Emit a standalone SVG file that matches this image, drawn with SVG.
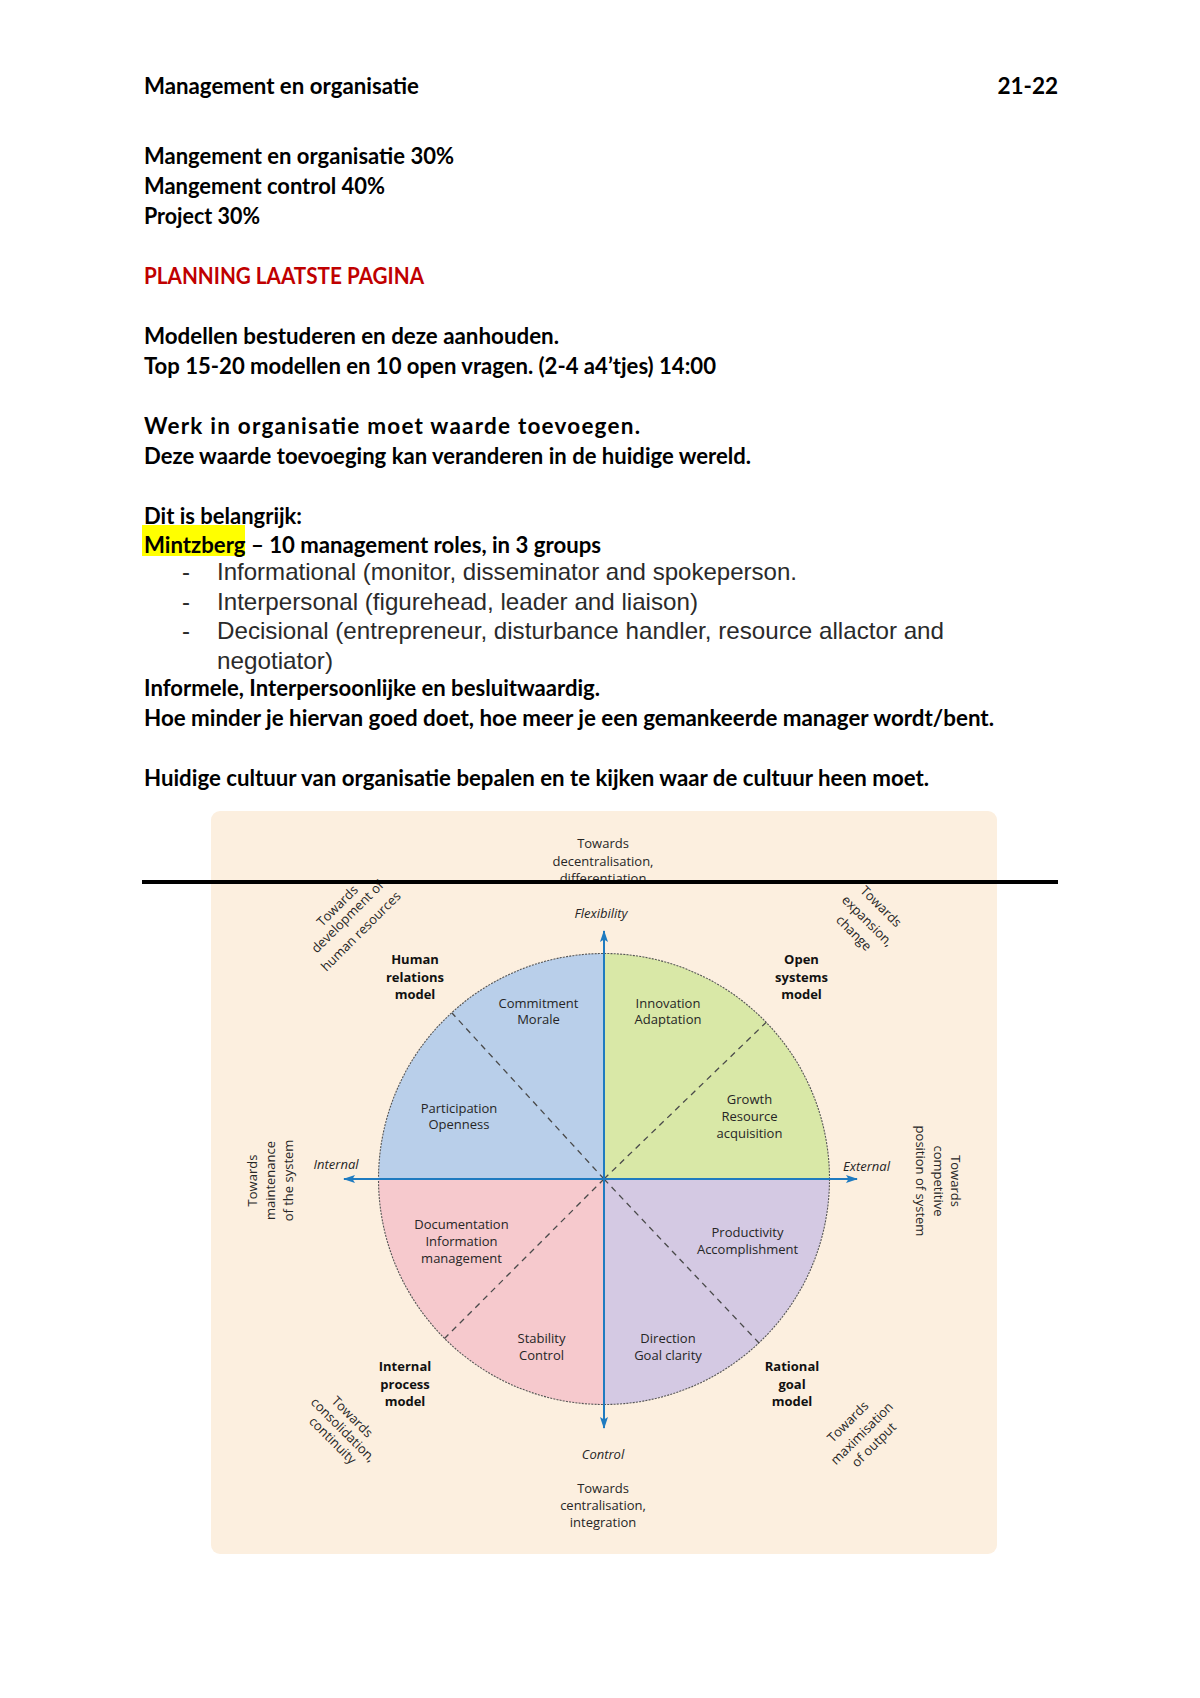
<svg xmlns="http://www.w3.org/2000/svg" width="1200" height="1698" viewBox="0 0 1200 1698">
<defs>
<style>
.b{font-family:Lato,"Liberation Sans",sans-serif;font-weight:700;font-size:22.5px;fill:#000}
.r{font-family:"Liberation Sans",Arial,sans-serif;font-size:24px;fill:#2a2a2a}
.d{font-family:"Open Sans","Liberation Sans",sans-serif;font-size:13px;fill:#262626;text-anchor:middle}
.db{font-weight:700;fill:#111}
.di{font-style:italic}
.dash{stroke:#4a4a4a;stroke-width:1.3;stroke-dasharray:6 5;fill:none}
.axis{stroke:#1f7bc0;stroke-width:2;fill:none}
</style>
<marker id="arr" viewBox="0 0 12 8" refX="11" refY="4" markerWidth="12" markerHeight="8" markerUnits="userSpaceOnUse" orient="auto">
<path d="M0,0 L12,4 L0,8 L2.5,4 Z" fill="#1f7bc0"/>
</marker>
</defs>
<rect width="1200" height="1698" fill="#ffffff"/>

<g id="text-body">
<text class="b" x="144" y="94" textLength="275" lengthAdjust="spacingAndGlyphs">Management en organisatie</text>
<text class="b" x="1058" y="94" text-anchor="end">21-22</text>
<text class="b" x="144" y="163.5" textLength="310" lengthAdjust="spacingAndGlyphs">Mangement en organisatie 30%</text>
<text class="b" x="144" y="193.5" textLength="241" lengthAdjust="spacingAndGlyphs">Mangement control 40%</text>
<text class="b" x="144" y="223.5" textLength="116" lengthAdjust="spacingAndGlyphs">Project 30%</text>
<text class="b" x="144" y="283.5" textLength="280" lengthAdjust="spacingAndGlyphs" style="fill:#c00000">PLANNING LAATSTE PAGINA</text>
<text class="b" x="144" y="343.5" textLength="415" lengthAdjust="spacingAndGlyphs">Modellen bestuderen en deze aanhouden.</text>
<text class="b" x="144" y="373.5" textLength="572" lengthAdjust="spacingAndGlyphs">Top 15-20 modellen en 10 open vragen. (2-4 a4’tjes) 14:00</text>
<text class="b" x="144" y="433.5" textLength="496" lengthAdjust="spacing">Werk in organisatie moet waarde toevoegen.</text>
<text class="b" x="144" y="463.5" textLength="607" lengthAdjust="spacingAndGlyphs">Deze waarde toevoeging kan veranderen in de huidige wereld.</text>
<text class="b" x="144" y="523.5" textLength="158" lengthAdjust="spacingAndGlyphs">Dit is belangrijk:</text>
<rect x="142" y="525" width="103" height="31" fill="#ffff00"/>
<text class="b" x="144" y="553" textLength="457" lengthAdjust="spacingAndGlyphs">Mintzberg – 10 management roles, in 3 groups</text>
<text class="r" x="182" y="580">-</text>
<text class="r" x="217" y="580" textLength="580" lengthAdjust="spacingAndGlyphs">Informational (monitor, disseminator and spokeperson.</text>
<text class="r" x="182" y="609.5">-</text>
<text class="r" x="217" y="609.5" textLength="481" lengthAdjust="spacingAndGlyphs">Interpersonal (figurehead, leader and liaison)</text>
<text class="r" x="182" y="639">-</text>
<text class="r" x="217" y="639" textLength="727" lengthAdjust="spacingAndGlyphs">Decisional (entrepreneur, disturbance handler, resource allactor and</text>
<text class="r" x="217" y="668.5" textLength="116" lengthAdjust="spacingAndGlyphs">negotiator)</text>
<text class="b" x="144" y="696" textLength="456" lengthAdjust="spacingAndGlyphs">Informele, Interpersoonlijke en besluitwaardig.</text>
<text class="b" x="144" y="726" textLength="850" lengthAdjust="spacingAndGlyphs">Hoe minder je hiervan goed doet, hoe meer je een gemankeerde manager wordt/bent.</text>
<text class="b" x="144" y="786" textLength="785" lengthAdjust="spacingAndGlyphs">Huidige cultuur van organisatie bepalen en te kijken waar de cultuur heen moet.</text>
</g>

<g id="panel">
<rect x="211" y="811" width="786" height="743" rx="9" fill="#fcefdf"/>
</g>

<g id="quadrants">
<g id="q-human-relations"><path d="M604,1179 L378.5,1179 A225.5,225.5 0 0 1 604,953.5 Z" fill="#b9cfea"/></g>
<g id="q-open-systems"><path d="M604,1179 L604,953.5 A225.5,225.5 0 0 1 829.5,1179 Z" fill="#d9e8a7"/></g>
<g id="q-rational-goal"><path d="M604,1179 L829.5,1179 A225.5,225.5 0 0 1 604,1404.5 Z" fill="#d4c9e3"/></g>
<g id="q-internal-process"><path d="M604,1179 L604,1404.5 A225.5,225.5 0 0 1 378.5,1179 Z" fill="#f6c9cd"/></g>
<circle cx="604" cy="1179" r="225.5" fill="none" stroke="#555" stroke-width="1.1" stroke-dasharray="2 1.2"/>
</g>

<g id="connectors">
<line class="dash" x1="604" y1="1179" x2="452" y2="1013"/>
<line class="dash" x1="604" y1="1179" x2="766" y2="1022.5"/>
<line class="dash" x1="604" y1="1179" x2="444.5" y2="1338.5"/>
<line class="dash" x1="604" y1="1179" x2="759" y2="1343"/>
<line class="axis" x1="604" y1="1179" x2="604" y2="931" marker-end="url(#arr)"/>
<line class="axis" x1="604" y1="1179" x2="604" y2="1428" marker-end="url(#arr)"/>
<line class="axis" x1="604" y1="1179" x2="344" y2="1179" marker-end="url(#arr)"/>
<line class="axis" x1="604" y1="1179" x2="857" y2="1179" marker-end="url(#arr)"/>
</g>

<g id="axis-labels">
<text class="d" x="603" y="848">Towards</text>
<text class="d" x="603" y="865.5">decentralisation,</text>
<text class="d" x="603" y="883">differentiation</text>
<text class="d di" x="601" y="917.5">Flexibility</text>
<text class="d di" x="336" y="1168.5">Internal</text>
<text class="d di" x="866.5" y="1170.5">External</text>
<text class="d di" x="603" y="1459">Control</text>
<text class="d" x="603" y="1492.5">Towards</text>
<text class="d" x="603" y="1510">centralisation,</text>
<text class="d" x="603" y="1527">integration</text>
<text class="d" transform="translate(256.8,1180.5) rotate(-90)">Towards</text>
<text class="d" transform="translate(275,1180.5) rotate(-90)">maintenance</text>
<text class="d" transform="translate(292.5,1180.5) rotate(-90)">of the system</text>
<text class="d" transform="translate(950.7,1181) rotate(90)">Towards</text>
<text class="d" transform="translate(933.5,1181) rotate(90)">competitive</text>
<text class="d" transform="translate(916,1181) rotate(90)">position of system</text>
<text class="d" transform="translate(340.5,909) rotate(-45)">Towards</text>
<text class="d" transform="translate(350.5,920) rotate(-45)">development of</text>
<text class="d" transform="translate(364,934.5) rotate(-45)">human resources</text>
<text class="d" transform="translate(877.8,909.7) rotate(45)">Towards</text>
<text class="d" transform="translate(864.3,924) rotate(45)">expansion,</text>
<text class="d" transform="translate(850.8,936.2) rotate(45)">change</text>
<text class="d" transform="translate(349,1420) rotate(45)">Towards</text>
<text class="d" transform="translate(340,1433) rotate(45)">consolidation,</text>
<text class="d" transform="translate(329.5,1443.5) rotate(45)">continuity</text>
<text class="d" transform="translate(851,1425) rotate(-45)">Towards</text>
<text class="d" transform="translate(865,1436.5) rotate(-45)">maximisation</text>
<text class="d" transform="translate(877,1448) rotate(-45)">of output</text>
</g>

<g id="model-human-relations"><text class="d db" x="415" y="964">Human</text><text class="d db" x="415" y="981.5">relations</text><text class="d db" x="415" y="998.5">model</text></g>
<g id="model-open-systems"><text class="d db" x="801.5" y="964">Open</text><text class="d db" x="801.5" y="981.5">systems</text><text class="d db" x="801.5" y="998.5">model</text></g>
<g id="model-internal-process"><text class="d db" x="405" y="1371">Internal</text><text class="d db" x="405" y="1388.5">process</text><text class="d db" x="405" y="1406">model</text></g>
<g id="model-rational-goal"><text class="d db" x="792" y="1371">Rational</text><text class="d db" x="792" y="1388.5">goal</text><text class="d db" x="792" y="1406">model</text></g>

<g id="seg-commitment"><text class="d" x="538.5" y="1007.5">Commitment</text><text class="d" x="538.5" y="1024">Morale</text></g>
<g id="seg-innovation"><text class="d" x="668" y="1007.5">Innovation</text><text class="d" x="668" y="1024">Adaptation</text></g>
<g id="seg-participation"><text class="d" x="459" y="1112.5">Participation</text><text class="d" x="459" y="1129">Openness</text></g>
<g id="seg-growth"><text class="d" x="749.5" y="1103.5">Growth</text><text class="d" x="749.5" y="1120.5">Resource</text><text class="d" x="749.5" y="1137.5">acquisition</text></g>
<g id="seg-documentation"><text class="d" x="461.5" y="1228.5">Documentation</text><text class="d" x="461.5" y="1245.5">Information</text><text class="d" x="461.5" y="1262.5">management</text></g>
<g id="seg-productivity"><text class="d" x="747.5" y="1237">Productivity</text><text class="d" x="747.5" y="1254">Accomplishment</text></g>
<g id="seg-stability"><text class="d" x="541.5" y="1343">Stability</text><text class="d" x="541.5" y="1360">Control</text></g>
<g id="seg-direction"><text class="d" x="668" y="1343">Direction</text><text class="d" x="668" y="1360">Goal clarity</text></g>

<line id="rule" x1="142" y1="882" x2="1058" y2="882" stroke="#000" stroke-width="4"/>
</svg>
